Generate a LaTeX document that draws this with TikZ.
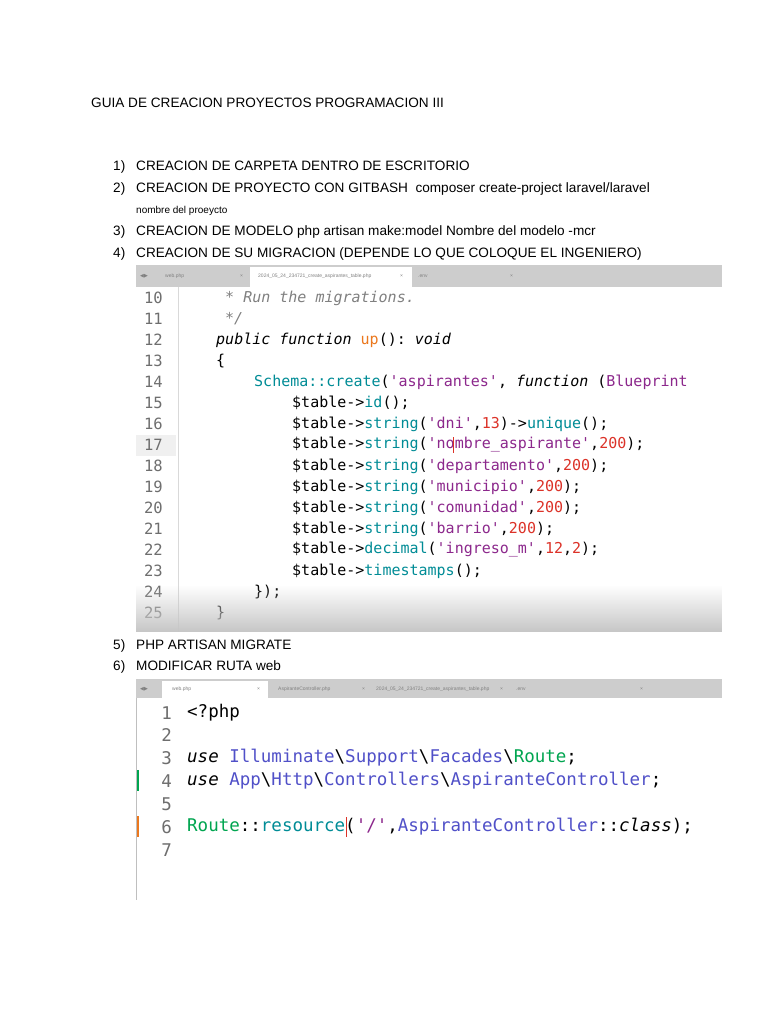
\documentclass[tikz,border=0pt]{standalone}
\usepackage{fontspec}
\setmainfont{Liberation Sans}
\setmonofont{DejaVu Sans Mono}
\newfontfamily\symfont{DejaVu Sans}
\usetikzlibrary{fadings}
\definecolor{cm}{RGB}{128,128,128}
\definecolor{fn}{RGB}{0,140,150}
\definecolor{st}{RGB}{140,40,140}
\definecolor{nu}{RGB}{220,50,40}
\definecolor{up}{RGB}{235,120,30}
\definecolor{bl}{RGB}{80,80,200}
\definecolor{gr}{RGB}{0,165,80}
\definecolor{ln}{RGB}{110,110,110}
\definecolor{tab}{RGB}{205,205,205}
\begin{document}
\begin{tikzpicture}[x=1pt,y=-1pt,
  txt/.style={anchor=base west,inner sep=0,font=\fontsize{13.6}{15}\selectfont},
  small/.style={anchor=base west,inner sep=0,font=\fontsize{10}{12}\selectfont},
  codeA/.style={anchor=west,inner sep=0,font=\ttfamily\fontsize{15}{18}\selectfont},
  codeB/.style={anchor=west,inner sep=0,font=\ttfamily\fontsize{17.5}{20}\selectfont},
  lnA/.style={anchor=east,inner sep=0,text=ln,font=\ttfamily\fontsize{15.5}{18}\selectfont},
  lnB/.style={anchor=east,inner sep=0,text=ln,font=\ttfamily\fontsize{17.5}{20}\selectfont},
  tabt/.style={anchor=west,inner sep=0,text=gray,font=\fontsize{5}{6}\selectfont},
  arr/.style={anchor=west,inner sep=0,text=gray,font=\symfont\fontsize{5}{6}\selectfont}]
\useasboundingbox (0,0) rectangle (768,1024);
\fill[white] (0,0) rectangle (768,1024);
\node[txt] (title) at (91,108) {GUIA DE CREACION PROYECTOS PROGRAMACION III};
\foreach \n/\y in {1/171,2/193,3/236,4/257,5/649,6/670}{\node[txt] (n\n) at (113,\y) {\n)};}
\node[txt] (i1) at (136,171) {CREACION DE CARPETA DENTRO DE ESCRITORIO};
\node[txt] (i2) at (136,193) {CREACION DE PROYECTO CON GITBASH\ \ composer create-project laravel/laravel};
\node[small] (i2b) at (136,214) {nombre del proeycto};
\node[txt] (i3) at (136,236) {CREACION DE MODELO php artisan make:model Nombre del modelo -mcr};
\node[txt] (i4) at (136,257) {CREACION DE SU MIGRACION (DEPENDE LO QUE COLOQUE EL INGENIERO)};
\node[txt] (i5) at (136,649) {PHP ARTISAN MIGRATE};
\node[txt] (i6) at (136,670) {MODIFICAR RUTA web};
% screenshot 1
\fill[tab] (136,265) rectangle (722,287);
\fill[white] (250,267) rectangle (412,287);
\node[arr] (a1) at (140,276) {◀▶};
\node[tabt] (a2) at (165,276) {web.php};
\node[tabt] (a3) at (240,276) {×};
\node[tabt] (a4) at (258,276) {2024\_05\_24\_234721\_create\_aspirantes\_table.php};
\node[tabt] (a5) at (400,276) {×};
\node[tabt] (a6) at (418,276) {.env};
\node[tabt] (a7) at (510,276) {×};
\fill[gray!12] (136,435) rectangle (176,456);
\draw[gray!30] (178,287) -- (178,632);
\begin{scope}
\clip (136,287) rectangle (722,632);
\foreach \k/\y in {10/298,11/319,12/340,13/361,14/382,15/403,16/424,17/445,18/466,19/487,20/508,21/529,22/550,23/571,24/592,25/613}{\node[lnA] (l\k) at (163,\y) {\k};}
\node[codeA] (c10) at (225,298) {\textcolor{cm}{\itshape * Run the migrations.}};
\node[codeA] (c11) at (225,319) {\textcolor{cm}{\itshape */}};
\node[codeA] (c12) at (216,340) {\textit{public function} \textcolor{up}{up}(): \textit{void}};
\node[codeA] (c13) at (216,361) {\{};
\node[codeA] (c14) at (254,382) {\textcolor{fn}{Schema::create}(\textcolor{st}{'aspirantes'}, \textit{function} (\textcolor{st}{Blueprint}};
\node[codeA] (c15) at (292,403) {\$table->\textcolor{fn}{id}();};
\node[codeA] (c16) at (292,424) {\$table->\textcolor{fn}{string}(\textcolor{st}{'dni'},\textcolor{nu}{13})->\textcolor{fn}{unique}();};
\node[codeA] (c17) at (292,445) {\$table->\textcolor{fn}{string}(\textcolor{st}{'nombre\_aspirante'},\textcolor{nu}{200});};
\node[codeA] (c18) at (292,466) {\$table->\textcolor{fn}{string}(\textcolor{st}{'departamento'},\textcolor{nu}{200});};
\node[codeA] (c19) at (292,487) {\$table->\textcolor{fn}{string}(\textcolor{st}{'municipio'},\textcolor{nu}{200});};
\node[codeA] (c20) at (292,508) {\$table->\textcolor{fn}{string}(\textcolor{st}{'comunidad'},\textcolor{nu}{200});};
\node[codeA] (c21) at (292,529) {\$table->\textcolor{fn}{string}(\textcolor{st}{'barrio'},\textcolor{nu}{200});};
\node[codeA] (c22) at (292,550) {\$table->\textcolor{fn}{decimal}(\textcolor{st}{'ingreso\_m'},\textcolor{nu}{12},\textcolor{nu}{2});};
\node[codeA] (c23) at (292,571) {\$table->\textcolor{fn}{timestamps}();};
\node[codeA] (c24) at (254,592) {\});};
\node[codeA] (c25) at (216,613) {\}};
\fill[gray!45,path fading=north] (136,585) rectangle (722,632);
\end{scope}
\draw[nu] (453,437) -- (453,453);
% screenshot 2
\fill[tab] (136,679) rectangle (722,698);
\fill[white] (162,681) rectangle (268,698);
\node[arr] (b1) at (140,689) {◀▶};
\node[tabt] (b2) at (172,689) {web.php};
\node[tabt] (b3) at (257,689) {×};
\node[tabt] (b4) at (278,689) {AspiranteController.php};
\node[tabt] (b5) at (362,689) {×};
\node[tabt] (b6) at (376,689) {2024\_05\_24\_234721\_create\_aspirantes\_table.php};
\node[tabt] (b7) at (500,689) {×};
\node[tabt] (b8) at (516,689) {.env};
\node[tabt] (b9) at (640,689) {×};
\draw[gray!50] (136,698) -- (136,900);
\fill[gr] (137,770) rectangle (139,791);
\fill[up] (137,816) rectangle (139,837);
\foreach \k/\y in {1/713,2/735,3/758,4/781,5/804,6/827,7/850}{\node[lnB] (m\k) at (172,\y) {\k};}
\node[codeB] (d1) at (187,713) {<?php};
\node[codeB] (d3) at (187,758) {\textit{use} \textcolor{bl}{Illuminate}\textbackslash\textcolor{bl}{Support}\textbackslash\textcolor{bl}{Facades}\textbackslash\textcolor{gr}{Route};};
\node[codeB] (d4) at (187,781) {\textit{use} \textcolor{bl}{App}\textbackslash\textcolor{bl}{Http}\textbackslash\textcolor{bl}{Controllers}\textbackslash\textcolor{bl}{AspiranteController};};
\node[codeB] (d6) at (187,827) {\textcolor{gr}{Route}::\textcolor{fn}{resource}(\textcolor{st}{'/'},\textcolor{bl}{AspiranteController}::\textit{class});};
\draw[nu] (346,817) -- (346,837);
\end{tikzpicture}
\end{document}
